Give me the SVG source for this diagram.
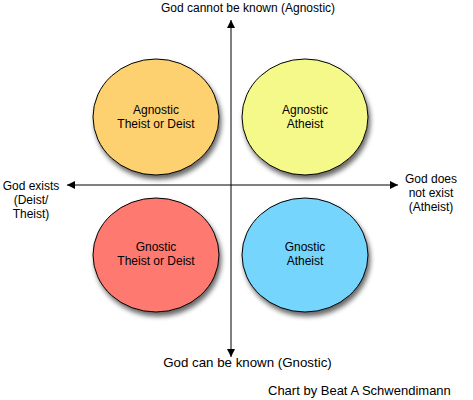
<svg xmlns="http://www.w3.org/2000/svg" width="473" height="400" viewBox="0 0 473 400">
<style>
text{font-family:"Liberation Sans",Arial,sans-serif;font-size:12px;fill:#000;text-anchor:middle}
.n ellipse{stroke:#000;stroke-width:1}
.ax{stroke:#000;stroke-width:1;fill:none}
</style>
<defs>
<filter id="sh" x="-20%" y="-20%" width="150%" height="150%">
<feGaussianBlur in="SourceAlpha" stdDeviation="2.5"/>
<feOffset dx="2" dy="4" result="b"/>
<feComponentTransfer><feFuncA type="linear" slope="0.6"/></feComponentTransfer>
<feMerge><feMergeNode/><feMergeNode in="SourceGraphic"/></feMerge>
</filter>
<marker id="ah" viewBox="0 0 10 10" refX="10" refY="5" markerWidth="8" markerHeight="8" markerUnits="userSpaceOnUse" orient="auto">
<path d="M0,0 L10,5 L0,10 z" fill="#000"/>
</marker>
</defs>
<rect width="473" height="400" fill="#fff"/>
<g id="connectors">
<line class="ax" x1="231" y1="185" x2="231" y2="20" marker-end="url(#ah)"/>
<line class="ax" x1="231" y1="185" x2="231" y2="357" marker-end="url(#ah)"/>
<line class="ax" x1="231" y1="185" x2="67" y2="185" marker-end="url(#ah)"/>
<line class="ax" x1="231" y1="185" x2="398" y2="185" marker-end="url(#ah)"/>
</g>
<g id="agnostic-theist" class="n">
<ellipse cx="156" cy="117" rx="63" ry="58" fill="#FED16F" filter="url(#sh)"/>
<text x="156" y="114">Agnostic</text>
<text x="156" y="128">Theist or Deist</text>
</g>
<g id="agnostic-atheist" class="n">
<ellipse cx="305" cy="117" rx="63" ry="58" fill="#F4F98A" filter="url(#sh)"/>
<text x="305" y="114">Agnostic</text>
<text x="305" y="128">Atheist</text>
</g>
<g id="gnostic-theist" class="n">
<ellipse cx="156" cy="255" rx="63" ry="57" fill="#FE7A6F" filter="url(#sh)"/>
<text x="156" y="251">Gnostic</text>
<text x="156" y="265">Theist or Deist</text>
</g>
<g id="gnostic-atheist" class="n">
<ellipse cx="305" cy="255" rx="63" ry="57" fill="#74D5FD" filter="url(#sh)"/>
<text x="305" y="251">Gnostic</text>
<text x="305" y="265">Atheist</text>
</g>
<g id="label-top"><text x="248" y="12">God cannot be known (Agnostic)</text></g>
<g id="label-bottom"><text x="247.5" y="367" style="font-size:13.3px">God can be known (Gnostic)</text></g>
<g id="label-left">
<text x="31" y="190">God exists</text>
<text x="31" y="204">(Deist/</text>
<text x="31" y="218">Theist)</text>
</g>
<g id="label-right">
<text x="431" y="183">God does</text>
<text x="431" y="197">not exist</text>
<text x="431" y="211">(Atheist)</text>
</g>
<g id="credit"><text x="268" y="395" style="text-anchor:start;font-size:13px">Chart by Beat A Schwendimann</text></g>
</svg>
